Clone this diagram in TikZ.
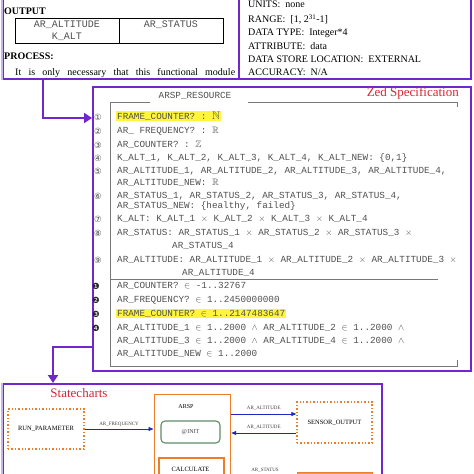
\documentclass[tikz,border=0pt]{standalone}
\usepackage{fontspec}
\usepackage{amssymb}
\setmainfont{Liberation Serif}
\setmonofont{Liberation Mono}
\newfontfamily\symfont{DejaVu Sans}
\usetikzlibrary{arrows.meta}
\definecolor{panelpurple}{RGB}{112,40,205}
\definecolor{lightpurple}{RGB}{205,180,240}
\definecolor{zedgray}{RGB}{80,80,80}
\definecolor{ruleg}{RGB}{120,120,120}
\definecolor{hl}{RGB}{255,245,60}
\definecolor{stred}{RGB}{210,40,50}
\definecolor{storange}{RGB}{236,125,45}
\definecolor{stgreen}{RGB}{95,140,100}
\definecolor{stblue}{RGB}{30,40,190}
\begin{document}
\begin{tikzpicture}[x=1pt,y=-1pt,
  panel/.style={draw=panelpurple, line width=2pt, inner sep=0pt},
  pconn/.style={draw=panelpurple, line width=2pt, -{Triangle[length=8pt,width=10pt]}},
  info/.style={anchor=mid west, inner sep=0pt, font=\fontsize{10}{12}\selectfont},
  head/.style={anchor=mid west, inner sep=0pt, font=\bfseries\fontsize{10}{12}\selectfont},
  cell/.style={inner sep=0pt, font=\ttfamily\fontsize{10}{12}\selectfont, text=zedgray},
  zl/.style={anchor=mid west, inner sep=0pt, font=\ttfamily\fontsize{9.3}{10}\selectfont, text=zedgray},
  zh/.style={anchor=mid west, inner sep=1pt, fill=hl, font=\ttfamily\fontsize{9.3}{10}\selectfont, text=zedgray},
  cn/.style={inner sep=0pt, font=\symfont\fontsize{8.5}{9}\selectfont, text=zedgray},
  zrule/.style={draw=ruleg, line width=0.9pt},
  title/.style={inner sep=0pt, text=stred, font=\fontsize{13}{15}\selectfont},
  stdot/.style={draw=storange, line width=1.4pt, dotted, inner sep=0pt, font=\fontsize{6.5}{8}\selectfont},
  stsolid/.style={draw=storange, line width=1.7pt, inner sep=0pt},
  stlab/.style={inner sep=0pt, font=\fontsize{6.5}{8}\selectfont},
  arlab/.style={inner sep=0pt, font=\fontsize{5}{6}\selectfont, text=black!75},
  barrow/.style={draw=stblue, line width=0.8pt, -{Triangle[length=5pt,width=4pt]}}
]
\clip (0,0) rectangle (474,474);
\fill[white] (0,0) rectangle (474,474);

% ---- top panels
\node[panel, anchor=south west, minimum width=236pt, minimum height=110pt] (tlpanel) at (2,80) {};
\draw[lightpurple, line width=2pt] (tlpanel.north west) -- (tlpanel.south west);
\node[panel, anchor=south west, minimum width=232pt, minimum height=110pt] (trpanel) at (238,80) {};

\node[head] (outh) at (4,12.5) {OUTPUT};
\node[draw=black, line width=1.3pt, anchor=north west, minimum width=104pt, minimum height=25pt, inner sep=0pt] (cellA) at (15,18) {};
\node[draw=black, line width=1.3pt, anchor=north west, minimum width=104pt, minimum height=25pt, inner sep=0pt] (cellB) at (119,18) {};
\node[cell] (ca1) at (67,25) {AR\_ALTITUDE};
\node[cell] (ca2) at (67,37) {K\_ALT};
\node[cell] (cb1) at (171,25) {AR\_STATUS};
\node[head] (proch) at (4,57) {PROCESS:};
\node[anchor=mid west, inner sep=0pt, font=\fontsize{10}{12}\selectfont, text width=220pt, align=justify] (proc) at (15,73.5) {It\hfill is\hfill only\hfill necessary\hfill that\hfill this\hfill functional\hfill module};

\node[anchor=base west, inner sep=0pt, font=\fontsize{10}{12}\selectfont] (units) at (248,7) {UNITS:\ \ none};
\node[info] (range) at (248,20.5) {RANGE:\ \ [1, 2\textsuperscript{31}-1]};
\node[info] (dtype) at (248,33.5) {DATA TYPE:\ \ Integer*4};
\node[info] (attr) at (248,47) {ATTRIBUTE:\ \ data};
\node[info] (dsl) at (248,60.5) {DATA STORE LOCATION:\ \ EXTERNAL};
\node[info] (acc) at (248,73.5) {ACCURACY:\ \ N/A};

% ---- Zed panel
\node[panel, anchor=north west, minimum width=378pt, minimum height=284pt] (zed) at (92,86) {};
\node[title, anchor=mid east] (zedt) at (459,94) {Zed Specification};
\node[inner sep=0pt, font=\ttfamily\fontsize{9.3}{10}\selectfont, text=zedgray] (sname) at (195,96) {ARSP\_RESOURCE};
\draw[zrule] (150,102) -| (110,366) -- (457,366) -- (457,360);
\draw[zrule] (248,102) -- (457,102) -- (457,107);
\draw[zrule] (110,279) -- (438,279);

\node[cn] (n1) at (98,117) {①};
\node[zh] (l1) at (116,117) {FRAME\_COUNTER?\ :\ \raisebox{-0.5pt}{\fontsize{11}{11}\selectfont$\mathbb{N}$}};
\node[cn] (n2) at (98,131) {②};
\node[zl] (l2) at (117,131) {AR\_ FREQUENCY?\ :\ $\mathbb{R}$};
\node[cn] (n3) at (98,145) {③};
\node[zl] (l3) at (117,145) {AR\_COUNTER?\ :\ $\mathbb{Z}$};
\node[cn] (n4) at (98,158) {④};
\node[zl] (l4) at (117,158) {K\_ALT\_1, K\_ALT\_2, K\_ALT\_3, K\_ALT\_4, K\_ALT\_NEW: \{0,1\}};
\node[cn] (n5) at (98,171) {⑤};
\node[zl] (l5) at (117,171) {AR\_ALTITUDE\_1, AR\_ALTITUDE\_2, AR\_ALTITUDE\_3, AR\_ALTITUDE\_4,};
\node[zl] (l5b) at (117,183) {AR\_ALTITUDE\_NEW: $\mathbb{R}$};
\node[cn] (n6) at (98,196) {⑥};
\node[zl] (l6) at (117,196) {AR\_STATUS\_1, AR\_STATUS\_2, AR\_STATUS\_3, AR\_STATUS\_4,};
\node[zl] (l6b) at (117,206) {AR\_STATUS\_NEW: \{healthy, failed\}};
\node[cn] (n7) at (98,219) {⑦};
\node[zl] (l7) at (117,219) {K\_ALT: K\_ALT\_1 $\times$ K\_ALT\_2 $\times$ K\_ALT\_3 $\times$ K\_ALT\_4};
\node[cn] (n8) at (98,233) {⑧};
\node[zl] (l8) at (117,233) {AR\_STATUS: AR\_STATUS\_1 $\times$ AR\_STATUS\_2 $\times$ AR\_STATUS\_3 $\times$};
\node[zl] (l8b) at (172,246) {AR\_STATUS\_4};
\node[cn] (n9) at (98,260) {⑨};
\node[zl] (l9) at (117,260) {AR\_ALTITUDE: AR\_ALTITUDE\_1 $\times$ AR\_ALTITUDE\_2 $\times$ AR\_ALTITUDE\_3 $\times$};
\node[zl] (l9b) at (182,273) {AR\_ALTITUDE\_4};

\node[cn, text=black!85] (m1) at (96,286) {❶};
\node[zl] (k1) at (117,286) {AR\_COUNTER? $\in$ -1..32767};
\node[cn, text=black!85] (m2) at (96,300) {❷};
\node[zl] (k2) at (117,300) {AR\_FREQUENCY? $\in$ 1..2450000000};
\node[cn, text=black!85] (m3) at (96,314) {❸};
\node[zh] (k3) at (116,314) {FRAME\_COUNTER? $\in$ 1..2147483647};
\node[cn, text=black!85] (m4) at (96,328) {❹};
\node[zl] (k4) at (117,328) {AR\_ALTITUDE\_1 $\in$ 1..2000 $\wedge$ AR\_ALTITUDE\_2 $\in$ 1..2000 $\wedge$};
\node[zl] (k4b) at (117,341) {AR\_ALTITUDE\_3 $\in$ 1..2000 $\wedge$ AR\_ALTITUDE\_4 $\in$ 1..2000 $\wedge$};
\node[zl] (k4c) at (117,354) {AR\_ALTITUDE\_NEW $\in$ 1..2000};

% ---- Statecharts panel
\node[panel, anchor=north west, minimum width=379pt, minimum height=120pt] (st) at (2,383) {};
\draw[lightpurple, line width=2pt] (st.north west) -- (st.south west);
\node[title] (stt) at (79,393) {Statecharts};

\node[stdot, minimum width=76pt, minimum height=40pt] (run) at (46,429) {RUN\_PARAMETER};
\node[stsolid, anchor=north west, minimum width=76pt, minimum height=110pt] (arsp) at (153.5,393.5) {};
\node[stlab, font=\fontsize{6}{7}\selectfont] (arspl) at (186,407) {ARSP};
\node[draw=stgreen, line width=1.1pt, rounded corners=4pt, minimum width=59pt, minimum height=22pt, inner sep=0pt, font=\fontsize{6}{7}\selectfont, text=black!75] (init) at (190.5,432) {@INIT};
\node[stsolid, anchor=north west, minimum width=65pt, minimum height=40pt] (calc) at (158,457) {};
\node[stlab] (calcl) at (190.5,469.5) {CALCULATE};
\node[stdot, minimum width=75pt, minimum height=41pt] (sensor) at (334.5,422.5) {SENSOR\_OUTPUT};
\node[draw=storange, fill=storange!80, line width=1.2pt, anchor=north west, minimum width=75pt, minimum height=20pt, inner sep=0pt] (sbox) at (297,472) {};

\draw[barrow] (run.east) -- (run.east -| arsp.west) node[arlab, midway, above=2pt] {AR\_FREQUENCY};
\draw[barrow] ([yshift=8.5pt]sensor.west -| arsp.east) -- ([yshift=8.5pt]sensor.west) node[arlab, midway, above=3pt] {AR\_ALTITUDE};
\draw[barrow] ([yshift=-10.5pt]sensor.west) -- ([yshift=-10.5pt]sensor.west -| arsp.east) node[arlab, midway, above=3pt] {AR\_ALTITUDE};
\node[arlab] (stl) at (265,470.5) {AR\_STATUS};

% ---- purple connectors
\draw[pconn] ([xshift=41pt]tlpanel.south west) |- ([yshift=-32pt]zed.north west);
\draw[pconn] ([yshift=25pt]zed.south west) -| ([xshift=51pt]st.north west);
\end{tikzpicture}
\end{document}
